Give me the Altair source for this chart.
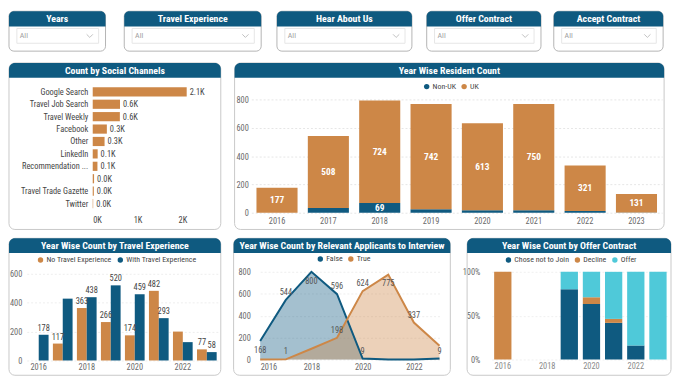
import altair as alt
import pandas as pd

FONT = "Roboto Condensed"
DARK = "#0f5a80"
ORANGE = "#cd8747"
CYAN = "#4fc9d9"
FRAME = "#c8c8c8"
TXT = "#454545"
AX = "#6a6a6a"

# ---------------- data ----------------
filters = ["Years", "Travel Experience", "Hear About Us", "Offer Contract", "Accept Contract"]
filter_value = "All"

channels = ["Google Search", "Travel Job Search", "Travel Weekly", "Facebook", "Other",
            "LinkedIn", "Recommendation ...", " ", "Travel Trade Gazette", "Twitter"]
channel_counts = [2095, 608, 605, 315, 264, 110, 105, 30, 25, 10]

years = [2016, 2017, 2018, 2019, 2020, 2021, 2022, 2023]
uk = [177, 508, 724, 742, 613, 750, 321, 131]
non_uk = [0, 34, 69, 25, 18, 18, 12, 2]

no_travel = [0, 117, 363, 266, 174, 482, 200, 77]
with_travel = [178, 428, 438, 520, 459, 293, 127, 58]

relevant_false = [168, 544, 800, 596, 9, 0, 0, 9]
relevant_true = [0, 1, 98, 198, 624, 775, 337, 125]

chose_not = [0, 0, 0, 80, 63.4, 41.8, 16, 0]
decline = [100, 0, 0, 0, 7.5, 4.5, 0, 0]
offer = [0, 0, 0, 20, 29.1, 53.7, 84, 100]

# ---------------- helpers ----------------
one = pd.DataFrame({"k": [0]})


def vrect(x0, x1, y0, y1, **kw):
    return alt.Chart(one).mark_rect(**kw).encode(
        x=alt.value(x0), x2=alt.value(x1), y=alt.value(y0), y2=alt.value(y1))


def vtext(x, y, text, **kw):
    return alt.Chart(one).mark_text(text=text, **kw).encode(x=alt.value(x), y=alt.value(y))


def legend(lx, ly):
    return alt.Legend(orient="none", legendX=lx, legendY=ly, direction="horizontal", title=None,
                      symbolType="circle", symbolSize=30, symbolStrokeWidth=0, symbolOpacity=1,
                      labelFontSize=8, labelColor=TXT, columnPadding=4, labelOffset=2, padding=0)


def panel(title, Wf, Hf, layers):
    # the plot area is the whole panel; data sit inside it through explicit scale ranges
    frame = vrect(0, Wf, 0, Hf, filled=False, stroke=FRAME, strokeWidth=1, cornerRadius=6)
    head = vrect(0, Wf, 0, 15, fill=DARK, cornerRadiusTopLeft=6, cornerRadiusTopRight=6)
    htxt = vtext(Wf / 2, 8, title, color="white", fontWeight="bold",
                 fontSize=10, baseline="middle", align="center")
    return alt.layer(frame, *layers, head, htxt).properties(width=Wf, height=Hf)


# ---------------- row 1: filters ----------------
filter_boxes = [(0, 98), (117, 256), (272, 409), (424, 540), (553, 664)]
f_layers = []
for name, (x0, x1) in zip(filters, filter_boxes):
    f_layers += [
        vrect(x0, x1, 0.5, 41, filled=False, stroke="#b4b4b4", strokeWidth=1, cornerRadius=5),
        vrect(x0, x1, 0.5, 16, fill=DARK, cornerRadiusTopLeft=5, cornerRadiusTopRight=5),
        vtext((x0 + x1) / 2, 8.5, name, color="white", fontWeight="bold", fontSize=10,
              baseline="middle", align="center"),
        vrect(x0 + 8, x1 - 7, 18, 33, filled=False, stroke="#e6e6e6", strokeWidth=1),
        vtext(x0 + 11, 25.5, filter_value, color="#a0a0a0", fontSize=8, baseline="middle", align="left"),
        alt.Chart(one).mark_point(shape="M-1,-0.5L0,0.5L1,-0.5", filled=False, stroke="#a8a8a8",
                                  strokeWidth=1, size=40).encode(x=alt.value(x1 - 16), y=alt.value(25.5)),
    ]
row1 = alt.layer(*f_layers).properties(width=664, height=45)

# ---------------- panel A: social channels (215 x 169) ----------------
soc = pd.DataFrame({"channel": channels, "count": channel_counts})
soc_base = alt.Chart(soc).encode(
    y=alt.Y("channel:N", sort=channels, title=None,
            scale=alt.Scale(range=[23, 149], paddingInner=0.26, paddingOuter=0.13),
            axis=alt.Axis(offset=-85, domain=False, ticks=False, grid=False, labelPadding=5,
                          labelFontSize=8.5, labelColor=TXT, labelLimit=200)),
    x=alt.X("count:Q", title=None, scale=alt.Scale(domain=[0, 2350], range=[85, 192], nice=False),
            axis=alt.Axis(offset=-20, values=[0, 1000, 2000], labelExpr="(datum.value / 1000) + 'K'",
                          domain=False, ticks=False, grid=False, labelPadding=6, labelFontSize=8.5,
                          labelColor=TXT)))
soc_bars = soc_base.mark_bar(color=ORANGE)
soc_text = soc_base.transform_calculate(lbl="format(datum.count / 1000, '.1f') + 'K'").mark_text(
    align="left", baseline="middle", dx=3, fontSize=8.5, color=TXT).encode(text="lbl:N")
pA = panel("Count by Social Channels", 215, 169, [soc_bars, soc_text])

# ---------------- panel B: resident count (436 x 169) ----------------
res = pd.DataFrame({"year": years * 2, "group": ["Non-UK"] * 8 + ["UK"] * 8,
                    "value": non_uk + uk, "ord": [0] * 8 + [1] * 8})
res_lab = pd.DataFrame({"year": years * 2,
                        "value": [n / 2 for n in non_uk] + [n + u / 2 for n, u in zip(non_uk, uk)],
                        "lbl": non_uk + uk})
res_lab = res_lab[res_lab["lbl"] >= 50]
xB = alt.X("year:O", title=None, scale=alt.Scale(range=[17, 434], paddingInner=0.2, paddingOuter=0.1),
           axis=alt.Axis(offset=-17, labelAngle=0, domain=False, ticks=False, grid=False, labelPadding=4,
                         labelFontSize=8.5, labelColor=AX))
yB_axis = alt.Axis(offset=-17, values=[0, 200, 400, 600, 800], domain=False, ticks=False, grid=True,
                   gridColor="#e6e6e6", gridDash=[2, 2], labelPadding=3, labelFontSize=8.5, labelColor=AX)
yB_scale = alt.Scale(domain=[0, 800], range=[152, 37], nice=False)
res_bars = alt.Chart(res).mark_bar().encode(
    x=xB,
    y=alt.Y("value:Q", title=None, stack="zero", scale=yB_scale, axis=yB_axis),
    color=alt.Color("group:N", scale=alt.Scale(domain=["Non-UK", "UK"], range=[DARK, ORANGE]),
                    legend=legend(191, 20)),
    order=alt.Order("ord:Q"))
res_text = alt.Chart(res_lab).mark_text(color="white", fontWeight="bold", fontSize=9.5, baseline="middle").encode(
    x=xB, y=alt.Y("value:Q", title=None, stack=None, scale=yB_scale, axis=yB_axis), text="lbl:Q")
pB = panel("Year Wise Resident Count", 436, 169, [res_bars, res_text])

# ---------------- panel C: travel experience (215 x 139) ----------------
travel = pd.DataFrame({"year": years * 2,
                       "exp": ["No Travel Experience"] * 8 + ["With Travel Experience"] * 8,
                       "value": no_travel + with_travel})
travel = travel[travel["value"] > 0]
xC = alt.X("year:O", title=None, scale=alt.Scale(range=[18, 213], paddingInner=0.18, paddingOuter=0.09),
           axis=alt.Axis(offset=-15, labelAngle=0, domain=False, ticks=False, grid=False, labelPadding=2,
                         labelFontSize=8.5, labelColor=AX,
                         labelExpr="datum.value % 2 == 0 ? datum.label : ''"))
xoC = alt.XOffset("exp:N", scale=alt.Scale(domain=["No Travel Experience", "With Travel Experience"]))
yC = alt.Y("value:Q", title=None, scale=alt.Scale(domain=[0, 600], range=[124, 36], nice=False),
           axis=alt.Axis(offset=-18, values=[0, 200, 400, 600], domain=False, ticks=False, grid=True,
                         gridColor="#eeeeee", gridDash=[2, 2], labelPadding=5, labelFontSize=8.5, labelColor=AX))
trav_bars = alt.Chart(travel).mark_bar().encode(
    x=xC, xOffset=xoC, y=yC,
    color=alt.Color("exp:N", scale=alt.Scale(domain=["No Travel Experience", "With Travel Experience"],
                                             range=[ORANGE, DARK]), legend=legend(28, 18)))
trav_text = alt.Chart(travel).transform_filter(
    "!(datum.year == 2022) && !(datum.year == 2017 && datum.exp == 'With Travel Experience')"
).mark_text(baseline="bottom", dy=-2, fontSize=8.5, color=TXT).encode(
    x=xC, xOffset=xoC, y=yC, text="value:Q")
pC = panel("Year Wise Count by Travel Experience", 215, 139, [trav_bars, trav_text])

# ---------------- panel D: relevant applicants (220 x 139) ----------------
rel = pd.DataFrame({"year": years * 2, "series": ["False"] * 8 + ["True"] * 8,
                    "value": relevant_false + relevant_true})
xD = alt.X("year:Q", title=None,
           scale=alt.Scale(domain=[2016, 2023], range=[27, 209], nice=False, zero=False),
           axis=alt.Axis(offset=-16, values=[2016, 2018, 2020, 2022], format="d", domain=False, ticks=False,
                         grid=False, labelPadding=3, labelFontSize=8.5, labelColor=AX))
yD = alt.Y("value:Q", title=None, stack=None, scale=alt.Scale(domain=[0, 800], range=[123, 34], nice=False),
           axis=alt.Axis(offset=-27, values=[0, 200, 400, 600, 800], domain=False, ticks=False, grid=True,
                         gridColor="#eeeeee", gridDash=[2, 2], labelPadding=10, labelFontSize=8.5,
                         labelColor=AX))
cD = alt.Scale(domain=["False", "True"], range=[DARK, ORANGE])
rel_area = alt.Chart(rel).mark_area(opacity=0.38).encode(
    x=xD, y=yD, color=alt.Color("series:N", scale=cD, legend=legend(84, 17)))
rel_line = alt.Chart(rel).mark_line(strokeWidth=2).encode(
    x=xD, y=yD, color=alt.Color("series:N", scale=cD, legend=None))
shown = ("datum.value > 0 && !(datum.series == 'True' && (datum.year == 2018 || datum.year == 2023))")
below = "(datum.value >= 700) || (datum.series == 'False' && datum.year == 2016)"
rel_t1 = alt.Chart(rel).transform_filter(shown + " && !(" + below + ")").mark_text(
    dy=-8, fontSize=8.5, color="#555555").encode(x=xD, y=yD, text="value:Q")
rel_t2 = alt.Chart(rel).transform_filter(shown + " && (" + below + ")").mark_text(
    dy=9, fontSize=8.5, color="#555555").encode(x=xD, y=yD, text="value:Q")
pD = panel("Year Wise Count by Relevant Applicants to Interview", 220, 139,
           [rel_area, rel_line, rel_t1, rel_t2])

# ---------------- panel E: offer contract (207 x 139) ----------------
statuses = ["Chose not to Join", "Decline", "Offer"]
offer_df = pd.DataFrame({"year": years * 3,
                         "status": [statuses[0]] * 8 + [statuses[1]] * 8 + [statuses[2]] * 8,
                         "value": chose_not + decline + offer,
                         "ord": [0] * 8 + [1] * 8 + [2] * 8})
offer_df = offer_df[offer_df["value"] > 0]
offer_bars = alt.Chart(offer_df).mark_bar().encode(
    x=alt.X("year:O", title=None,
            scale=alt.Scale(domain=years, range=[25, 205], paddingInner=0.22, paddingOuter=0.11),
            axis=alt.Axis(offset=-16, labelAngle=0, domain=False, ticks=False, grid=False, labelPadding=2,
                          labelFontSize=8.5, labelColor="#8a8a8a",
                          labelExpr="datum.value % 2 == 0 ? datum.label : ''")),
    y=alt.Y("value:Q", title=None, stack="normalize", scale=alt.Scale(range=[123, 34]),
            axis=alt.Axis(offset=-25, values=[0, 0.5, 1], format="%", domain=False, ticks=False, grid=True,
                          gridColor="#f0f0f0", gridDash=[2, 2], labelPadding=12, labelFontSize=8.5,
                          labelColor=AX)),
    color=alt.Color("status:N", scale=alt.Scale(domain=statuses, range=[DARK, ORANGE, CYAN]),
                    legend=legend(38, 18)),
    order=alt.Order("ord:Q"))
pE = panel("Year Wise Count by Offer Contract", 207, 139, [offer_bars])

row2 = alt.hconcat(pA, pB, spacing=12).resolve_scale(color="independent")
row3 = alt.hconcat(pC, pD, pE, spacing=11).resolve_scale(color="independent")

chart = alt.vconcat(row1, row2, row3, spacing=7).resolve_scale(
    color="independent").properties(padding=0).configure(font=FONT).configure_view(strokeWidth=0)

chart.save("out.html", embed_options={"renderer": "svg", "actions": False})
